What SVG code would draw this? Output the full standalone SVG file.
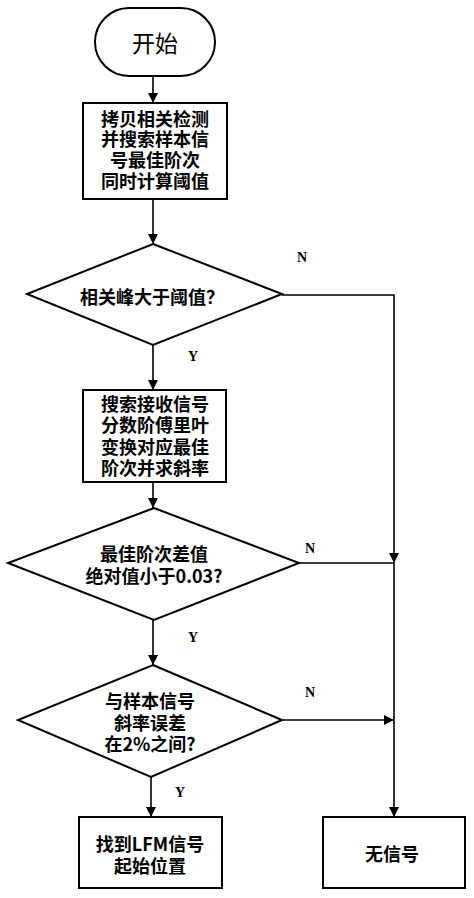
<svg xmlns="http://www.w3.org/2000/svg" width="474" height="898" viewBox="0 0 474 898">
<defs>
<marker id="ah" viewBox="0 0 10 10" refX="10" refY="5" markerWidth="10" markerHeight="10" markerUnits="userSpaceOnUse" orient="auto">
<path d="M0,0 L10,5 L0,10 z" fill="#000"/>
</marker>
<style>
.s{fill:#fff;stroke:#000;stroke-width:2}
.t{font-family:"Noto Sans CJK SC","Noto Sans",sans-serif;font-size:18px;font-weight:bold;fill:#000;text-anchor:middle;dominant-baseline:central}
.l{font-family:"Liberation Serif",serif;font-size:14px;font-weight:bold;fill:#000;text-anchor:middle;dominant-baseline:central}
.c{fill:none;stroke:#000;stroke-width:1.6}
</style>
</defs>
<rect width="474" height="898" fill="#fff"/>
<g id="connectors">
<path class="c" d="M153,76 V103" marker-end="url(#ah)"/>
<path class="c" d="M153,199 V244" marker-end="url(#ah)"/>
<path class="c" d="M153,344 V390" marker-end="url(#ah)"/>
<path class="c" d="M153,482 V508" marker-end="url(#ah)"/>
<path class="c" d="M153,620 V665" marker-end="url(#ah)"/>
<path class="c" d="M151,776 V817" marker-end="url(#ah)"/>
<path class="c" d="M282,295 H394 V563" marker-end="url(#ah)"/>
<path class="c" d="M299,563 H394 V817" marker-end="url(#ah)"/>
<path class="c" d="M283,720 H394" marker-end="url(#ah)"/>
</g>
<g id="start">
<rect class="s" x="95" y="8" width="120" height="68" rx="34"/>
<text class="t" x="155" y="42" style="font-size:23px;font-weight:normal">开始</text>
</g>
<g id="box1">
<rect class="s" x="83" y="103" width="144" height="96"/>
<text class="t" x="155" y="118">拷贝相关检测</text>
<text class="t" x="155" y="138">并搜索样本信</text>
<text class="t" x="155" y="159">号最佳阶次</text>
<text class="t" x="155" y="180">同时计算阈值</text>
</g>
<g id="dec1">
<path class="s" d="M153,244 L282,294 L153,345 L27,294 z"/>
<text class="t" x="152" y="296">相关峰大于阈值？</text>
<text class="l" x="302" y="257">N</text>
<text class="l" x="193" y="356">Y</text>
</g>
<g id="box2">
<rect class="s" x="83" y="390" width="143" height="92"/>
<text class="t" x="155" y="403">搜索接收信号</text>
<text class="t" x="155" y="424">分数阶傅里叶</text>
<text class="t" x="155" y="446">变换对应最佳</text>
<text class="t" x="155" y="467">阶次并求斜率</text>
</g>
<g id="dec2">
<path class="s" d="M154,508 L299,563 L154,620 L8,563 z"/>
<text class="t" x="154" y="553">最佳阶次差值</text>
<text class="t" x="154" y="575">绝对值小于0.03?</text>
<text class="l" x="310" y="548">N</text>
<text class="l" x="193" y="637">Y</text>
</g>
<g id="dec3">
<path class="s" d="M153,665 L282,720 L151,777 L18,720 z"/>
<text class="t" x="150" y="700">与样本信号</text>
<text class="t" x="150" y="722">斜率误差</text>
<text class="t" x="150" y="743">在2%之间?</text>
<text class="l" x="310" y="692">N</text>
<text class="l" x="180" y="792">Y</text>
</g>
<g id="box4">
<rect class="s" x="79" y="817" width="143" height="71"/>
<text class="t" x="150" y="843">找到LFM信号</text>
<text class="t" x="150" y="865">起始位置</text>
</g>
<g id="box5">
<rect class="s" x="323" y="817" width="142" height="71"/>
<text class="t" x="392" y="853">无信号</text>
</g>
</svg>
